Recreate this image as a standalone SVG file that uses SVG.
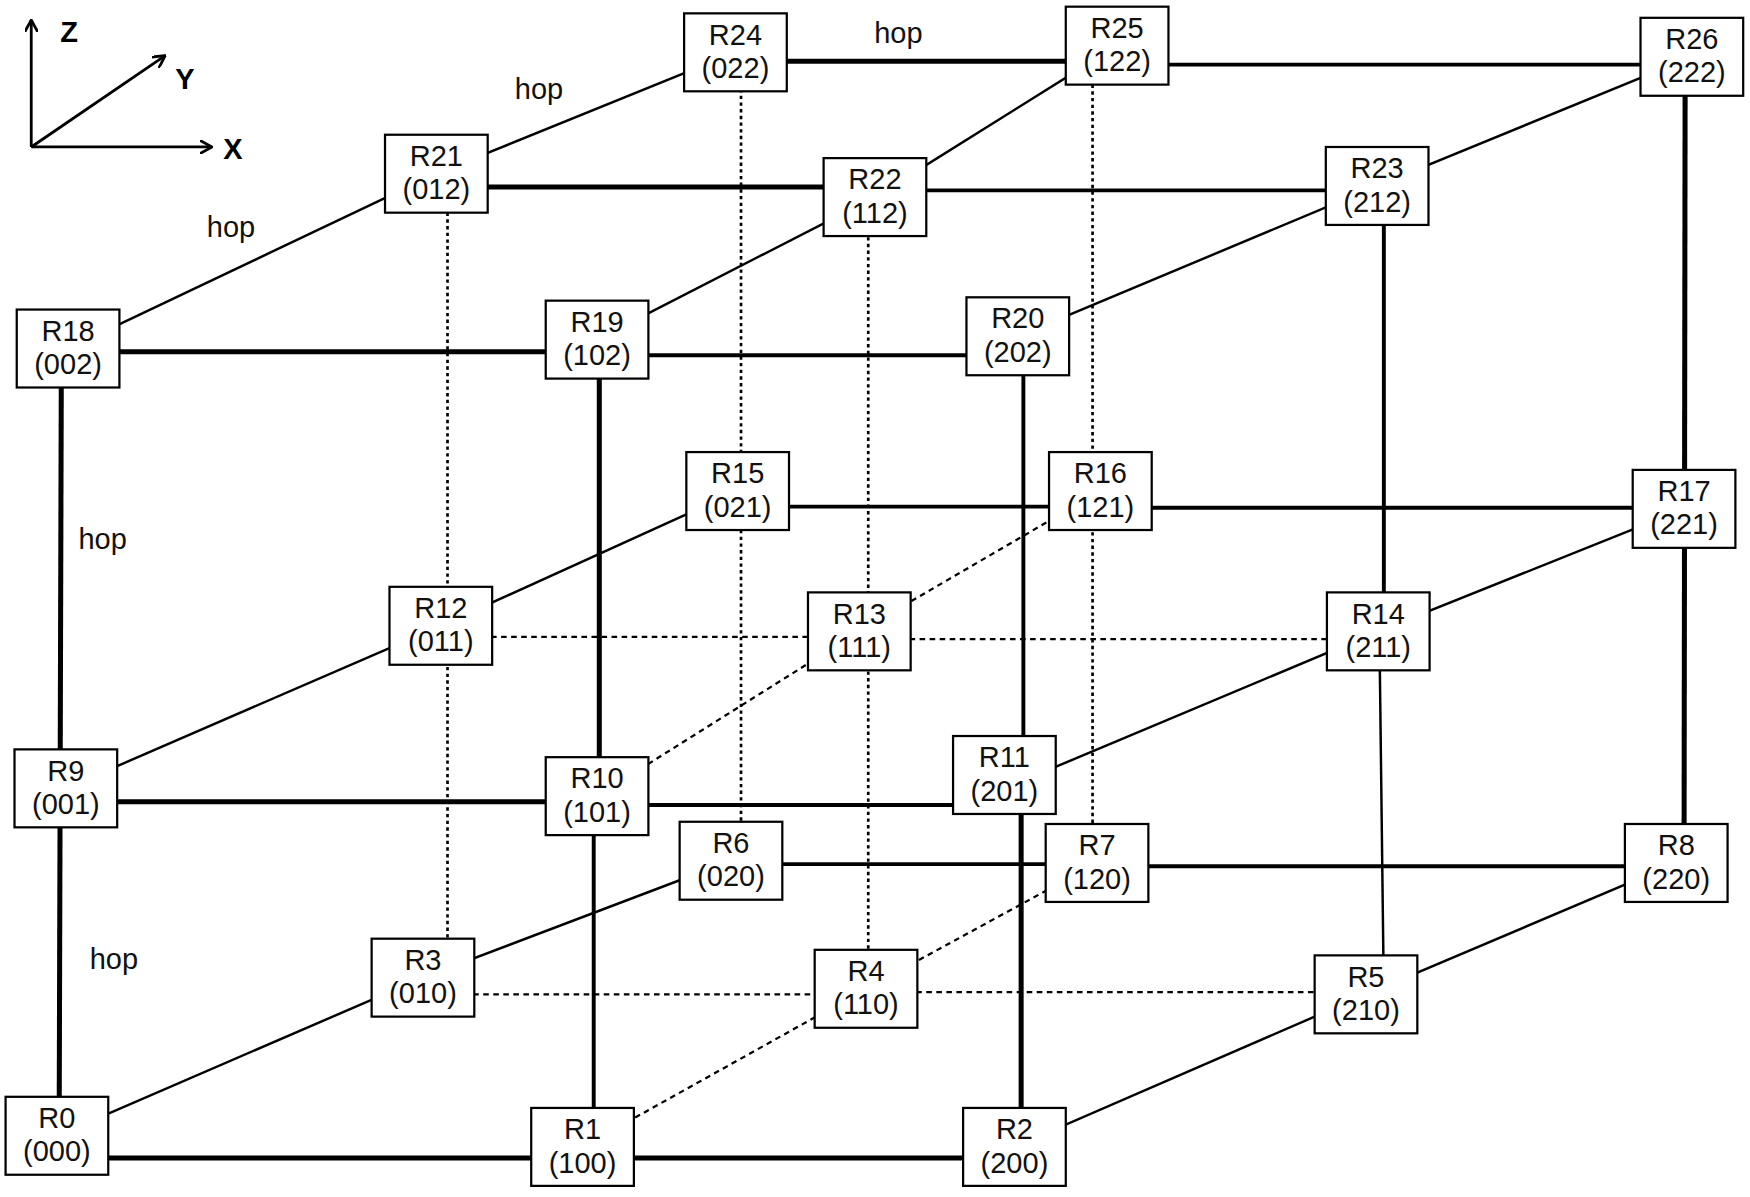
<svg xmlns="http://www.w3.org/2000/svg" width="1750" height="1197" viewBox="0 0 1750 1197">
<style>
.n rect{fill:#fff;stroke:#000;stroke-width:2}
.n text,.t{font-family:"Liberation Sans",Arial,sans-serif;font-size:26px;text-anchor:middle;fill:#111}
.k{stroke:#000;stroke-width:4.5}
.m{stroke:#000;stroke-width:3.5}
.s{stroke:#000;stroke-width:2.2}
.d{stroke:#000;stroke-width:2;stroke-dasharray:5,4}
.o{stroke:#000;stroke-width:2.4;stroke-dasharray:3,3}
.a{font-family:"Liberation Sans",Arial,sans-serif;font-size:26px;font-weight:bold}
</style>
<defs><marker id="ar" markerWidth="12" markerHeight="12" refX="11" refY="6" orient="auto" markerUnits="userSpaceOnUse"><path d="M0,0 L11,6 L0,12" fill="none" stroke="#000" stroke-width="2.5"/></marker></defs>
<rect width="1750" height="1197" fill="#fff"/>
<g transform="scale(1.116,1.1135)">
<g id="axes" fill="none" stroke="#000" stroke-width="2.5">
<line x1="28" y1="132" x2="28" y2="18" marker-end="url(#ar)"/>
<line x1="28" y1="132" x2="190" y2="132" marker-end="url(#ar)"/>
<line x1="28" y1="132" x2="148" y2="50" marker-end="url(#ar)"/>
</g>
<text class="a" x="54" y="38">Z</text><text class="a" x="157" y="80">Y</text><text class="a" x="200" y="143">X</text>
<g id="connectors">
<line class="k" x1="51" y1="1040" x2="522" y2="1040"/><line class="k" x1="522" y1="1040" x2="909" y2="1040"/>
<line class="k" x1="59" y1="720" x2="535" y2="720"/><line class="m" x1="535" y1="723" x2="900" y2="723"/>
<line class="k" x1="61" y1="316" x2="535" y2="316"/><line class="m" x1="535" y1="319" x2="912" y2="319"/>
<line class="k" x1="391" y1="168" x2="784" y2="168"/><line class="m" x1="784" y1="171" x2="1234" y2="171"/>
<line class="k" x1="659" y1="55" x2="1001" y2="55"/><line class="m" x1="1001" y1="58" x2="1516" y2="58"/>
<line class="m" x1="655" y1="776" x2="983" y2="776"/><line class="m" x1="983" y1="778" x2="1502" y2="778"/>
<line class="m" x1="661" y1="455" x2="986" y2="455"/><line class="m" x1="986" y1="456" x2="1509" y2="456"/>
<line class="d" x1="379" y1="893" x2="776" y2="893"/><line class="d" x1="776" y1="891" x2="1224" y2="891"/>
<line class="d" x1="395" y1="572" x2="770" y2="572"/><line class="d" x1="770" y1="574" x2="1235" y2="574"/>
<line class="s" x1="51" y1="1020" x2="379" y2="878"/><line class="s" x1="379" y1="878" x2="655" y2="773"/>
<line class="d" x1="522" y1="1030" x2="776" y2="888"/><line class="d" x1="776" y1="888" x2="983" y2="775"/>
<line class="s" x1="909" y1="1030" x2="1224" y2="893"/><line class="s" x1="1224" y1="893" x2="1502" y2="775"/>
<line class="s" x1="59" y1="708" x2="395" y2="562"/><line class="s" x1="395" y1="562" x2="661" y2="441"/>
<line class="d" x1="535" y1="715" x2="770" y2="567"/><line class="d" x1="770" y1="567" x2="986" y2="441"/>
<line class="s" x1="900" y1="708" x2="1235" y2="567"/><line class="s" x1="1235" y1="567" x2="1509" y2="457"/>
<line class="s" x1="61" y1="313" x2="391" y2="156"/><line class="s" x1="391" y1="156" x2="659" y2="47"/>
<line class="s" x1="535" y1="305" x2="784" y2="177"/><line class="s" x1="784" y1="177" x2="1001" y2="41"/>
<line class="s" x1="912" y1="302" x2="1234" y2="167"/><line class="s" x1="1234" y1="167" x2="1516" y2="51"/>
<line class="k" x1="53" y1="1020" x2="55" y2="313"/>
<line class="m" x1="532" y1="1030" x2="532" y2="715"/><line class="k" x1="537" y1="715" x2="537" y2="305"/>
<line class="k" x1="915" y1="1030" x2="915" y2="696"/><line class="m" x1="917" y1="696" x2="917" y2="302"/>
<line class="o" x1="401" y1="878" x2="401" y2="156"/>
<line class="o" x1="778" y1="888" x2="778" y2="177"/>
<line class="s" x1="1240" y1="893" x2="1236" y2="567"/><line class="m" x1="1240" y1="567" x2="1240" y2="167"/>
<line class="o" x1="664" y1="773" x2="664" y2="47"/>
<line class="o" x1="979" y1="775" x2="979" y2="41"/>
<line class="k" x1="1509" y1="775" x2="1510" y2="51"/>
</g>
<text class="t" x="483" y="89">hop</text><text class="t" x="805" y="39">hop</text><text class="t" x="207" y="213">hop</text><text class="t" x="92" y="493">hop</text><text class="t" x="102" y="870">hop</text>
<g id="R0" class="n"><rect x="5" y="985" width="92" height="70"/><text x="51" y="1013">R0</text><text x="51" y="1043">(000)</text></g>
<g id="R1" class="n"><rect x="476" y="995" width="92" height="70"/><text x="522" y="1023">R1</text><text x="522" y="1053">(100)</text></g>
<g id="R2" class="n"><rect x="863" y="995" width="92" height="70"/><text x="909" y="1023">R2</text><text x="909" y="1053">(200)</text></g>
<g id="R3" class="n"><rect x="333" y="843" width="92" height="70"/><text x="379" y="871">R3</text><text x="379" y="901">(010)</text></g>
<g id="R4" class="n"><rect x="730" y="853" width="92" height="70"/><text x="776" y="881">R4</text><text x="776" y="911">(110)</text></g>
<g id="R5" class="n"><rect x="1178" y="858" width="92" height="70"/><text x="1224" y="886">R5</text><text x="1224" y="916">(210)</text></g>
<g id="R6" class="n"><rect x="609" y="738" width="92" height="70"/><text x="655" y="766">R6</text><text x="655" y="796">(020)</text></g>
<g id="R7" class="n"><rect x="937" y="740" width="92" height="70"/><text x="983" y="768">R7</text><text x="983" y="798">(120)</text></g>
<g id="R8" class="n"><rect x="1456" y="740" width="92" height="70"/><text x="1502" y="768">R8</text><text x="1502" y="798">(220)</text></g>
<g id="R9" class="n"><rect x="13" y="673" width="92" height="70"/><text x="59" y="701">R9</text><text x="59" y="731">(001)</text></g>
<g id="R10" class="n"><rect x="489" y="680" width="92" height="70"/><text x="535" y="708">R10</text><text x="535" y="738">(101)</text></g>
<g id="R11" class="n"><rect x="854" y="661" width="92" height="70"/><text x="900" y="689">R11</text><text x="900" y="719">(201)</text></g>
<g id="R12" class="n"><rect x="349" y="527" width="92" height="70"/><text x="395" y="555">R12</text><text x="395" y="585">(011)</text></g>
<g id="R13" class="n"><rect x="724" y="532" width="92" height="70"/><text x="770" y="560">R13</text><text x="770" y="590">(111)</text></g>
<g id="R14" class="n"><rect x="1189" y="532" width="92" height="70"/><text x="1235" y="560">R14</text><text x="1235" y="590">(211)</text></g>
<g id="R15" class="n"><rect x="615" y="406" width="92" height="70"/><text x="661" y="434">R15</text><text x="661" y="464">(021)</text></g>
<g id="R16" class="n"><rect x="940" y="406" width="92" height="70"/><text x="986" y="434">R16</text><text x="986" y="464">(121)</text></g>
<g id="R17" class="n"><rect x="1463" y="422" width="92" height="70"/><text x="1509" y="450">R17</text><text x="1509" y="480">(221)</text></g>
<g id="R18" class="n"><rect x="15" y="278" width="92" height="70"/><text x="61" y="306">R18</text><text x="61" y="336">(002)</text></g>
<g id="R19" class="n"><rect x="489" y="270" width="92" height="70"/><text x="535" y="298">R19</text><text x="535" y="328">(102)</text></g>
<g id="R20" class="n"><rect x="866" y="267" width="92" height="70"/><text x="912" y="295">R20</text><text x="912" y="325">(202)</text></g>
<g id="R21" class="n"><rect x="345" y="121" width="92" height="70"/><text x="391" y="149">R21</text><text x="391" y="179">(012)</text></g>
<g id="R22" class="n"><rect x="738" y="142" width="92" height="70"/><text x="784" y="170">R22</text><text x="784" y="200">(112)</text></g>
<g id="R23" class="n"><rect x="1188" y="132" width="92" height="70"/><text x="1234" y="160">R23</text><text x="1234" y="190">(212)</text></g>
<g id="R24" class="n"><rect x="613" y="12" width="92" height="70"/><text x="659" y="40">R24</text><text x="659" y="70">(022)</text></g>
<g id="R25" class="n"><rect x="955" y="6" width="92" height="70"/><text x="1001" y="34">R25</text><text x="1001" y="64">(122)</text></g>
<g id="R26" class="n"><rect x="1470" y="16" width="92" height="70"/><text x="1516" y="44">R26</text><text x="1516" y="74">(222)</text></g>
</g>
</svg>
